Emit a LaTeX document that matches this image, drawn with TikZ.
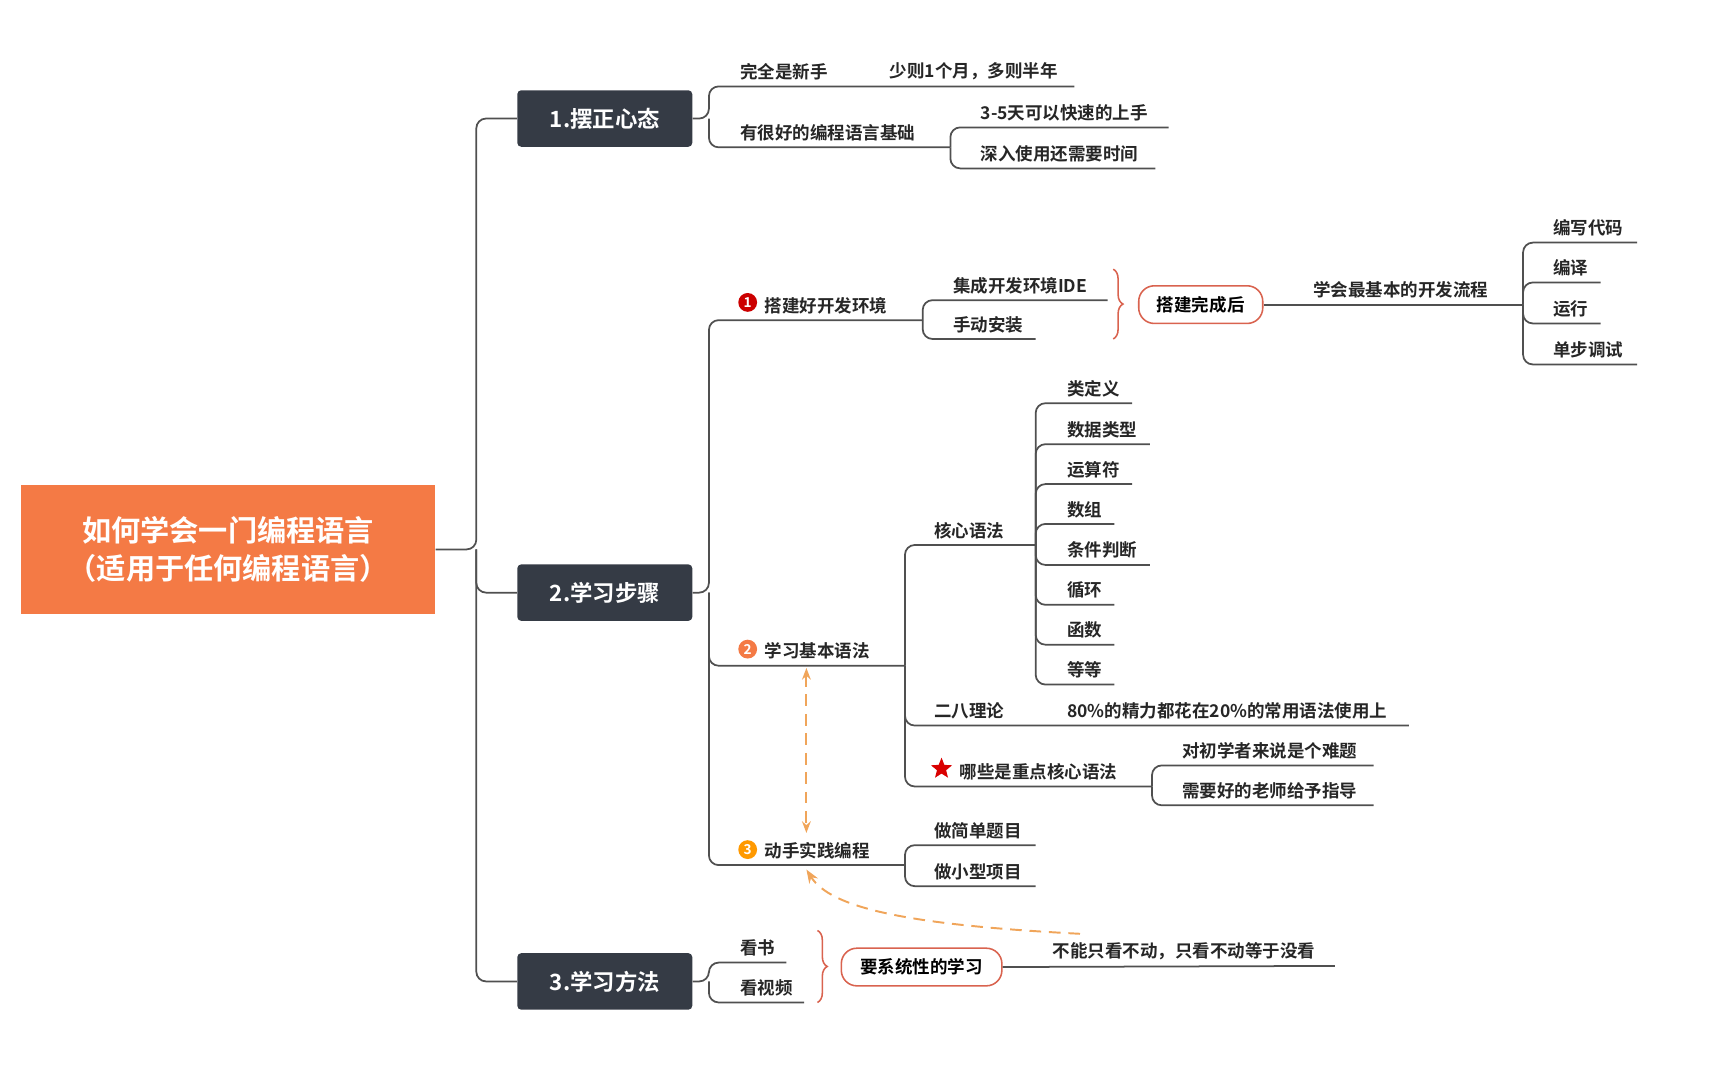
\documentclass[tikz,border=0pt]{standalone}
\usepackage{fontspec}
\setmainfont{Noto Sans CJK SC}[BoldFont={Noto Sans CJK SC Bold}]
\usetikzlibrary{shapes.geometric,decorations.pathreplacing,arrows.meta}
\definecolor{rootc}{HTML}{F47A45}
\definecolor{boxc}{HTML}{353B45}
\definecolor{linec}{HTML}{505050}
\definecolor{dashc}{HTML}{F0A55A}
\definecolor{redc}{HTML}{D9634F}
\tikzset{
  txt/.style={anchor=south west,inner sep=0pt,yshift=3pt,font=\bfseries\fontsize{9}{11}\selectfont,text=black!85},
  ln/.style={draw=linec,line width=0.9pt,rounded corners=5pt},
  lvbox/.style={fill=boxc,text=white,rounded corners=2pt,minimum width=3.16cm,minimum height=1.02cm,font=\bfseries\fontsize{11.5}{13}\selectfont},
  tagbox/.style={draw=redc,line width=0.8pt,rounded corners=8pt,minimum height=0.68cm,inner xsep=6pt,font=\bfseries\fontsize{9}{11}\selectfont},
  brc/.style={draw=redc,line width=0.8pt,decorate,decoration={brace,amplitude=5pt}},
  numc/.style={circle,inner sep=0pt,minimum size=0.34cm,text=white,font=\bfseries\fontsize{7}{8}\selectfont},
  dsh/.style={draw=dashc,line width=1pt,dash pattern=on 6pt off 4pt}
}
\begin{document}
\begin{tikzpicture}[x=0.02cm,y=-0.02cm]
\useasboundingbox (0,0) rectangle (1560,975);
% root and main branches
\node[fill=rootc,text=white,minimum width=7.48cm,minimum height=2.32cm,align=center,
  font=\bfseries\fontsize{15}{20}\selectfont] (root) at (206,496) {如何学会一门编程语言\\（适用于任何编程语言）};
\node[lvbox] (b1) at (546,107) {1.摆正心态};
\node[lvbox] (b2) at (546,535) {2.学习步骤};
\node[lvbox] (b3) at (546,886) {3.学习方法};
\draw[ln] (root.east) -- (430,496) |- (b1.west);
\draw[ln] (430,496) |- (b2.west);
\draw[ln] (430,496) |- (b3.west);
% 1. mindset
\node[txt] (n11) at (668,78) {完全是新手};
\node[txt] (n12) at (803,78) {少则1个月，多则半年};
\node[txt] (n13) at (668,133) {有很好的编程语言基础};
\node[txt] (n131) at (885,115) {3-5天可以快速的上手};
\node[txt] (n132) at (885,152) {深入使用还需要时间};
\draw[ln] (b1.east) -- (640,107) |- (970,78);
\draw[ln] (640,107) |- (858,133);
\draw[ln] (858,133) |- (1055,115);
\draw[ln] (858,133) |- (1043,152);
% 2. steps
\draw[ln] (b2.east) -- (640,535) |- (833,289);
\draw[ln] (640,535) |- (817,601);
\draw[ln] (640,535) |- (817,781);
\node[numc,fill=red!80!black] (c1) at (675,273) {1};
\node[txt] (s1) at (690,289) {搭建好开发环境};
\node[numc,fill=rootc] (c2) at (675,586) {2};
\node[txt] (s2) at (690,601) {学习基本语法};
\node[numc,fill=orange!80!yellow] (c3) at (675,767) {3};
\node[txt] (s3) at (690,781) {动手实践编程};
% step 1
\node[txt] (ide) at (860,271) {集成开发环境IDE};
\node[txt] (man) at (860,306) {手动安装};
\draw[ln] (833,289) |- (1000,271);
\draw[ln] (833,289) |- (935,306);
\draw[brc] (1005,243) -- (1005,306);
\node[tagbox,minimum width=2.24cm] (done) at (1084,275) {搭建完成后};
\node[txt] (flow) at (1185,275) {学会最基本的开发流程};
\draw[ln] (done.east) -- (1375,275);
\draw[ln] (1375,275) |- (1478,219);
\draw[ln] (1375,275) |- (1445,255);
\draw[ln] (1375,275) |- (1445,292);
\draw[ln] (1375,275) |- (1478,329);
\node[txt] (f1) at (1402,219) {编写代码};
\node[txt] (f2) at (1402,255) {编译};
\node[txt] (f3) at (1402,292) {运行};
\node[txt] (f4) at (1402,329) {单步调试};
% step 2
\draw[ln] (817,601) |- (935,492);
\draw[ln] (817,601) |- (1272,655);
\draw[ln] (817,601) |- (1040,710);
\node[txt] (core) at (843,492) {核心语法};
\foreach \t/\y/\e in {类定义/364/1022,数据类型/401/1038,运算符/437/1022,数组/473/1006,
  条件判断/510/1038,循环/546/1006,函数/582/1006,等等/618/1006}{
  \node[txt] at (963,\y) {\t};
  \draw[ln] (935,492) |- (\e,\y);
}
\node[txt] (r28) at (843,655) {二八理论};
\node[txt] (r28t) at (963,655) {80\%的精力都花在20\%的常用语法使用上};
\node[star,star points=5,star point ratio=2.3,fill=red!85!black,inner sep=0pt,minimum size=0.4cm] (st) at (850,694) {};
\node[txt] (key) at (866,710) {哪些是重点核心语法};
\draw[ln] (1040,710) |- (1240,691);
\draw[ln] (1040,710) |- (1240,727);
\node[txt] (k1) at (1067,691) {对初学者来说是个难题};
\node[txt] (k2) at (1067,727) {需要好的老师给予指导};
% step 3
\draw[ln] (817,781) |- (935,763);
\draw[ln] (817,781) |- (935,800);
\node[txt] (p1) at (843,763) {做简单题目};
\node[txt] (p2) at (843,800) {做小型项目};
\draw[dsh,{Stealth[length=6pt]}-{Stealth[length=6pt]}] (728,603) -- (728,752);
% 3. methods
\draw[ln] (b3.east) -- (640,886) |- (710,869);
\draw[ln] (640,886) |- (726,905);
\node[txt] (m1) at (668,869) {看书};
\node[txt] (m2) at (668,905) {看视频};
\draw[brc] (738,840) -- (738,905);
\node[tagbox,minimum width=2.9cm] (sys) at (832,873) {要系统性的学习};
\node[txt] (nl) at (950,872) {不能只看不动，只看不动等于没看};
\draw[ln] (sys.east) -- (1205,872);
\draw[dsh,-{Stealth[length=7pt]}] (975,843) .. controls (820,835) and (750,820) .. (728,785);
\end{tikzpicture}
\end{document}
